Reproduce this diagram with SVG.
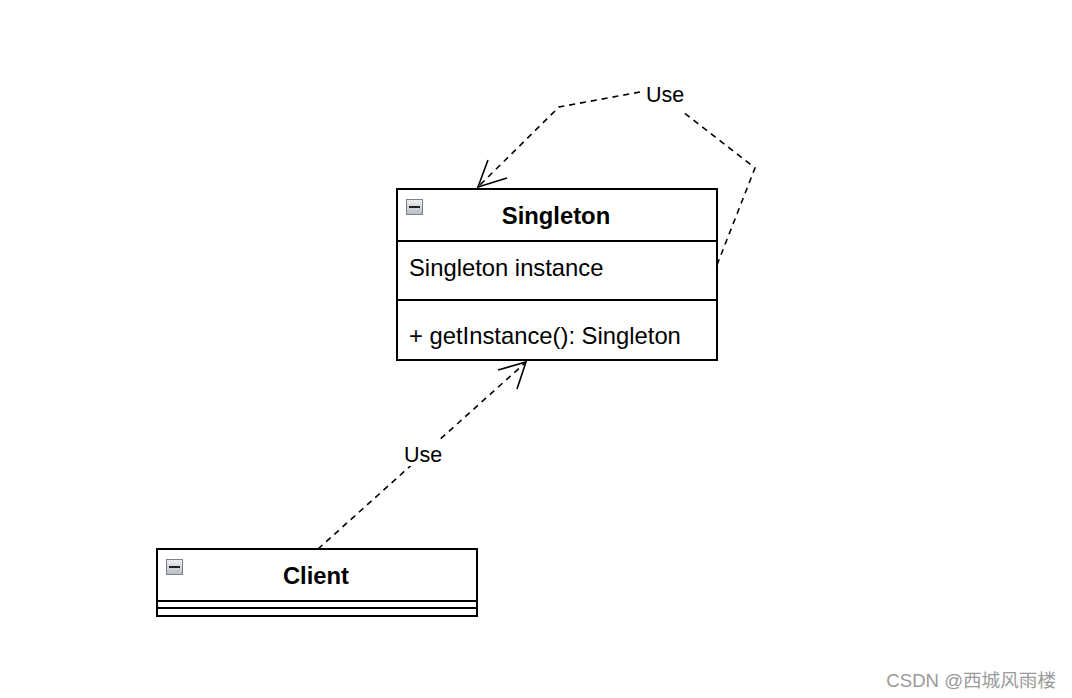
<svg xmlns="http://www.w3.org/2000/svg" width="1072" height="698" viewBox="0 0 1072 698">
<style>
.box{fill:#fff;stroke:#000;stroke-width:2}
.div{stroke:#000;stroke-width:2}
.title{font-family:"Liberation Sans",Arial,sans-serif;font-weight:bold;font-size:23.8px;text-anchor:middle;fill:#000}
.txt{font-family:"Liberation Sans",Arial,sans-serif;font-size:23.8px;fill:#000}
.lbl{font-family:"Liberation Sans",Arial,sans-serif;font-size:21.5px;fill:#000;text-anchor:middle}
.dash{fill:none;stroke:#000;stroke-width:1.6;stroke-dasharray:6,5}
.head{fill:none;stroke:#000;stroke-width:1.6}
.icon{fill:url(#ig);stroke:#7a7f8a;stroke-width:1}
</style>
<defs>
<linearGradient id="ig" x1="0" y1="0" x2="0" y2="1">
<stop offset="0" stop-color="#eef0f4"/>
<stop offset="1" stop-color="#b8bcc6"/>
</linearGradient>
</defs>
<rect width="1072" height="698" fill="#fff"/>
<g id="connectors">
<g id="client-use">
<path class="dash" d="M318,549 L525,363"/>
<path class="head" d="M498,370 L526,362 L517,389"/>
<rect x="402" y="440" width="42" height="26" fill="#fff"/>
<text class="lbl" x="423" y="462">Use</text>
</g>
<g id="self-use">
<path class="dash" d="M717,265 L755,168 L683,112"/>
<path class="dash" d="M640,92 L559,107 L479,186"/>
<path class="head" d="M488,160 L478,187 L507,178"/>
<text class="lbl" x="665" y="102">Use</text>
</g>
</g>
<g id="singleton">
<rect class="box" x="397" y="189" width="320" height="171"/>
<line class="div" x1="397" y1="241" x2="717" y2="241"/>
<line class="div" x1="397" y1="300" x2="717" y2="300"/>
<rect class="icon" x="406.5" y="199.5" width="16" height="15"/>
<rect x="409" y="206" width="11" height="2" fill="#222"/>
<text class="title" x="556" y="224">Singleton</text>
<text class="txt" x="409" y="276">Singleton instance</text>
<text class="txt" x="409" y="344">+ getInstance(): Singleton</text>
</g>
<g id="client">
<rect class="box" x="157" y="549" width="320" height="67"/>
<line class="div" x1="157" y1="601" x2="477" y2="601"/>
<line class="div" x1="157" y1="608" x2="477" y2="608"/>
<rect class="icon" x="166.5" y="559.5" width="16" height="15"/>
<rect x="169" y="566" width="11" height="2" fill="#222"/>
<text class="title" x="316" y="584">Client</text>
</g>
<text x="1056" y="687" text-anchor="end" font-family="'Liberation Sans','Noto Sans CJK SC',sans-serif" font-size="18.6" fill="#9a9a9a">CSDN @西城风雨楼</text>
</svg>
